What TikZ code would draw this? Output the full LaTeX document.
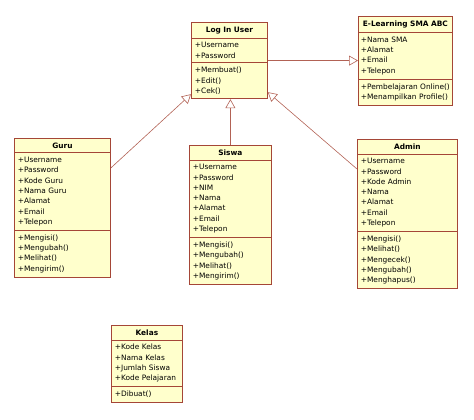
\documentclass[tikz,border=0pt]{standalone}
\usepackage{fontspec}
\setmainfont{DejaVu Sans}
\usetikzlibrary{arrows.meta, shapes.multipart, calc}

\definecolor{umlborder}{RGB}{165,70,55}
\definecolor{umlfill}{RGB}{255,255,204}
\newcommand\classtitle[1]{\hfill\textbf{#1}\hfill\null}
\hyphenpenalty=10000
\hbadness=10000
\hfuzz=5pt

\begin{document}
\begin{tikzpicture}[
  x=1pt, y=-1pt,
  umlclass/.style={draw=umlborder, fill=umlfill, line width=0.8pt, rectangle split, rectangle split parts=3,
    anchor=north west, text width=#1, align=left, inner xsep=3.5pt, inner ysep=4pt,
    font=\fontsize{7.4}{10.3}\selectfont},
  inherit/.style={-{Triangle[open, length=9pt, width=10pt]}, draw=umlborder!85, line width=0.6pt}
]
  \useasboundingbox (0,0) rectangle (474,420);

  % classes
  \node[umlclass=89, inner xsep=2.5pt] (elearn) at (358,16) {\classtitle{E-Learning SMA ABC}
    \nodepart{two}+Nama SMA\\+Alamat\\+Email\\+Telepon
    \nodepart{three}+Pembelajaran~Online()\\+Menampilkan~Profile()};
  \node[umlclass=69] (login) at (191,22) {\classtitle{Log In User}
    \nodepart{two}+Username\\+Password
    \nodepart{three}+Membuat()\\+Edit()\\+Cek()};
  \node[umlclass=89] (guru) at (14,138) {\classtitle{Guru}
    \nodepart{two}+Username\\+Password\\+Kode Guru\\+Nama Guru\\+Alamat\\+Email\\+Telepon
    \nodepart{three}+Mengisi()\\+Mengubah()\\+Melihat()\\+Mengirim()};
  \node[umlclass=75] (siswa) at (189,145) {\classtitle{Siswa}
    \nodepart{two}+Username\\+Password\\+NIM\\+Nama\\+Alamat\\+Email\\+Telepon
    \nodepart{three}+Mengisi()\\+Mengubah()\\+Melihat()\\+Mengirim()};
  \node[umlclass=93] (admin) at (357,139) {\classtitle{Admin}
    \nodepart{two}+Username\\+Password\\+Kode Admin\\+Nama\\+Alamat\\+Email\\+Telepon
    \nodepart{three}+Mengisi()\\+Melihat()\\+Mengecek()\\+Mengubah()\\+Menghapus()};
  \node[umlclass=64] (kelas) at (111,325) {\classtitle{Kelas}
    \nodepart{two}+Kode Kelas\\+Nama Kelas\\+Jumlah Siswa\\+Kode Pelajaran
    \nodepart{three}+Dibuat()};

  % generalisation
  \draw[inherit] ($(guru.north east)+(0,30)$) -- ($(login.south west)+(0,-5)$);
  \draw[inherit] (siswa.north) -- (siswa.north |- login.south);
  \draw[inherit] ($(admin.north west)+(0,30)$) -- ($(login.south east)+(0,-7)$);
  \draw[inherit] (login.east) -- (elearn.west |- login.east);
\end{tikzpicture}
\end{document}
